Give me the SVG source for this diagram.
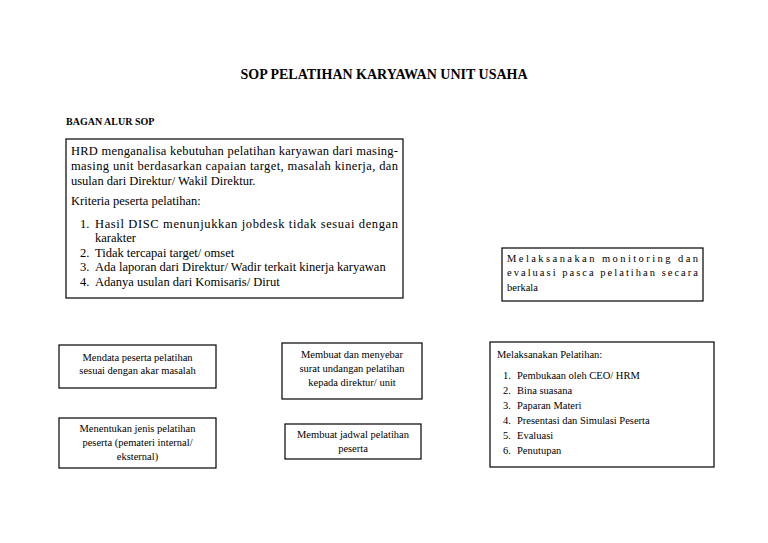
<svg xmlns="http://www.w3.org/2000/svg" width="768" height="543" viewBox="0 0 768 543">
<style>
.b{fill:#fff;stroke:#000;stroke-width:1.2}
text{font-family:"Liberation Serif","DejaVu Serif",serif;fill:#000}
.m{font-size:12.5px}
.s{font-size:10.5px}
.c{text-anchor:middle}
</style>
<rect width="768" height="543" fill="#fff"/>
<text x="384" y="79" class="c" style="font-size:14px;font-weight:bold">SOP PELATIHAN KARYAWAN UNIT USAHA</text>
<text x="66" y="125" style="font-size:10px;font-weight:bold">BAGAN ALUR SOP</text>
<g id="n1">
<rect class="b" x="66" y="139" width="337" height="159"/>
<text class="m" x="71" y="155" textLength="327" lengthAdjust="spacing">HRD menganalisa kebutuhan pelatihan karyawan dari masing-</text>
<text class="m" x="71" y="170" textLength="327" lengthAdjust="spacing">masing unit berdasarkan capaian target, masalah kinerja, dan</text>
<text class="m" x="71" y="185">usulan dari Direktur/ Wakil Direktur.</text>
<text class="m" x="71" y="205">Kriteria peserta pelatihan:</text>
<text class="m" x="80" y="228">1.</text>
<text class="m" x="95" y="228" textLength="303" lengthAdjust="spacing">Hasil DISC menunjukkan jobdesk tidak sesuai dengan</text>
<text class="m" x="95" y="242">karakter</text>
<text class="m" x="80" y="257">2.</text><text class="m" x="95" y="257">Tidak tercapai target/ omset</text>
<text class="m" x="80" y="271">3.</text><text class="m" x="95" y="271">Ada laporan dari Direktur/ Wadir terkait kinerja karyawan</text>
<text class="m" x="80" y="286">4.</text><text class="m" x="95" y="286">Adanya usulan dari Komisaris/ Dirut</text>
</g>
<g id="n2">
<rect class="b" x="502" y="248" width="201" height="53"/>
<text class="s" x="507" y="262" textLength="191" lengthAdjust="spacing">Melaksanakan monitoring dan</text>
<text class="s" x="507" y="276" textLength="191" lengthAdjust="spacing">evaluasi pasca pelatihan secara</text>
<text class="s" x="507" y="291">berkala</text>
</g>
<g id="n3">
<rect class="b" x="59" y="345" width="157" height="43"/>
<text class="s c" x="137.5" y="361">Mendata peserta pelatihan</text>
<text class="s c" x="137.5" y="374">sesuai dengan akar masalah</text>
</g>
<g id="n4">
<rect class="b" x="282" y="343" width="140" height="56"/>
<text class="s c" x="352" y="358">Membuat dan menyebar</text>
<text class="s c" x="352" y="372">surat undangan pelatihan</text>
<text class="s c" x="352" y="386">kepada direktur/ unit</text>
</g>
<g id="n5">
<rect class="b" x="490" y="342" width="224" height="125"/>
<text class="s" x="497" y="358">Melaksanakan Pelatihan:</text>
<text class="s" x="503" y="379">1.</text><text class="s" x="517" y="379">Pembukaan oleh CEO/ HRM</text>
<text class="s" x="503" y="394">2.</text><text class="s" x="517" y="394">Bina suasana</text>
<text class="s" x="503" y="409">3.</text><text class="s" x="517" y="409">Paparan Materi</text>
<text class="s" x="503" y="424">4.</text><text class="s" x="517" y="424">Presentasi dan Simulasi Peserta</text>
<text class="s" x="503" y="439">5.</text><text class="s" x="517" y="439">Evaluasi</text>
<text class="s" x="503" y="454">6.</text><text class="s" x="517" y="454">Penutupan</text>
</g>
<g id="n6">
<rect class="b" x="59" y="418" width="157" height="50"/>
<text class="s c" x="137.5" y="432">Menentukan jenis pelatihan</text>
<text class="s c" x="137.5" y="446">peserta (pemateri internal/</text>
<text class="s c" x="137.5" y="460">eksternal)</text>
</g>
<g id="n7">
<rect class="b" x="285" y="424" width="136" height="35"/>
<text class="s c" x="353" y="438">Membuat jadwal pelatihan</text>
<text class="s c" x="353" y="452">peserta</text>
</g>
<g id="connectors"></g>
</svg>
